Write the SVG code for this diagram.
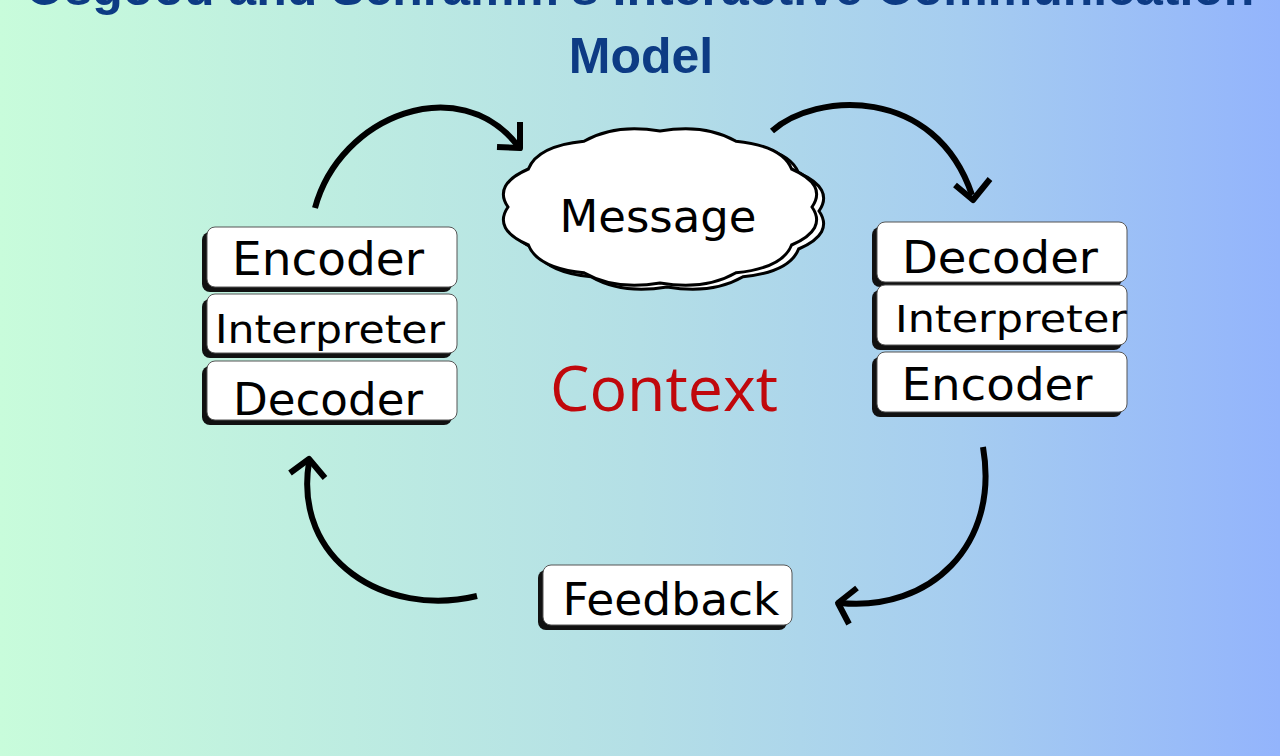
<svg xmlns="http://www.w3.org/2000/svg" width="1280" height="756" viewBox="0 0 1280 756">
<defs>
<linearGradient id="bg" x1="0" y1="0" x2="1" y2="0">
<stop offset="0" stop-color="#c8fcdb"/>
<stop offset="0.5" stop-color="#b4dfe6"/>
<stop offset="0.75" stop-color="#a6cdf0"/>
<stop offset="1" stop-color="#93b4fc"/>
</linearGradient>
<path id="cloud" d="M812,207 Q827.4,229.4 791.6,245 Q782.5,268.2 736,272.8 Q704.9,290.7 660,283 Q615.1,290.7 584,272.8 Q537.5,268.2 528.4,245 Q492.6,229.4 508,207 Q492.6,184.6 528.4,169 Q537.5,145.8 584,141.2 Q615.1,123.3 660,131 Q704.9,123.3 736,141.2 Q782.5,145.8 791.6,169 Q827.4,184.6 812,207 Z"/>
</defs>
<style>
.title{font-family:"Liberation Sans",Arial,sans-serif;font-weight:bold;font-size:50px;fill:#0d3b84;text-anchor:middle}
.lbl{font-family:"DejaVu Sans","Noto Sans",sans-serif;fill:#000;text-anchor:middle}
.box{fill:#fff;stroke:#555;stroke-width:1}
.shadow{fill:#111}
.arr{fill:none;stroke:#000;stroke-width:6;stroke-linecap:butt;stroke-linejoin:round}
.cl{fill:#fff;stroke:#000;stroke-width:3}
</style>
<rect width="1280" height="756" fill="url(#bg)"/>
<g id="title">
<text class="title" x="640" y="5">Osgood and Schramm's Interactive Communication</text>
<text class="title" x="641" y="73">Model</text>
</g>
<g id="connectors">
<path class="arr" d="M315,208 C340,115 460,70 518,146"/>
<path class="arr" d="M497,147 L520,148 L520,122"/>
<path class="arr" d="M772,131 C815,92 935,85 972,195"/>
<path class="arr" d="M955,185 L973,200 L990,179"/>
<path class="arr" d="M983,447 C1000,545 930,612 840,603"/>
<path class="arr" d="M857,588 L838,603 L849,624"/>
<path class="arr" d="M477,596 C385,618 293,560 309,462"/>
<path class="arr" d="M290,473 L309,459 L325,478"/>
</g>
<g id="message">
<use href="#cloud" class="cl" transform="translate(7,4)"/>
<use href="#cloud" class="cl"/>
<text class="lbl" x="658" y="232" font-size="45" textLength="197" lengthAdjust="spacingAndGlyphs">Message</text>
</g>
<g id="left-encoder">
<rect class="shadow" x="202" y="232" width="250" height="60" rx="8"/>
<rect class="box" x="207" y="227" width="250" height="60" rx="8"/>
<text class="lbl" x="328" y="275" font-size="46" textLength="192" lengthAdjust="spacingAndGlyphs">Encoder</text>
</g>
<g id="left-interpreter">
<rect class="shadow" x="202" y="299" width="250" height="59" rx="8"/>
<rect class="box" x="207" y="294" width="250" height="59" rx="8"/>
<text class="lbl" x="330" y="343" font-size="39" textLength="230" lengthAdjust="spacingAndGlyphs">Interpreter</text>
</g>
<g id="left-decoder">
<rect class="shadow" x="202" y="366" width="250" height="59" rx="8"/>
<rect class="box" x="207" y="361" width="250" height="59" rx="8"/>
<text class="lbl" x="328" y="415" font-size="45" textLength="190" lengthAdjust="spacingAndGlyphs">Decoder</text>
</g>
<g id="right-decoder">
<rect class="shadow" x="872" y="227" width="250" height="60" rx="8"/>
<rect class="box" x="877" y="222" width="250" height="60" rx="8"/>
<text class="lbl" x="1000" y="273" font-size="45" textLength="196" lengthAdjust="spacingAndGlyphs">Decoder</text>
</g>
<g id="right-interpreter">
<rect class="shadow" x="872" y="290" width="250" height="60" rx="8"/>
<rect class="box" x="877" y="285" width="250" height="60" rx="8"/>
<text class="lbl" x="1011" y="332" font-size="38" textLength="232" lengthAdjust="spacingAndGlyphs">Interpreter</text>
</g>
<g id="right-encoder">
<rect class="shadow" x="872" y="357" width="250" height="60" rx="8"/>
<rect class="box" x="877" y="352" width="250" height="60" rx="8"/>
<text class="lbl" x="997" y="400" font-size="45" textLength="191" lengthAdjust="spacingAndGlyphs">Encoder</text>
</g>
<g id="context">
<text x="664" y="411" font-family="'Open Sans','Noto Sans',sans-serif" font-size="62" fill="#c0080c" text-anchor="middle" textLength="228" lengthAdjust="spacingAndGlyphs">Context</text>
</g>
<g id="feedback">
<rect class="shadow" x="538" y="570" width="249" height="60" rx="8"/>
<rect class="box" x="543" y="565" width="249" height="60" rx="8"/>
<text class="lbl" x="671" y="615" font-size="45" textLength="217" lengthAdjust="spacingAndGlyphs">Feedback</text>
</g>
</svg>
